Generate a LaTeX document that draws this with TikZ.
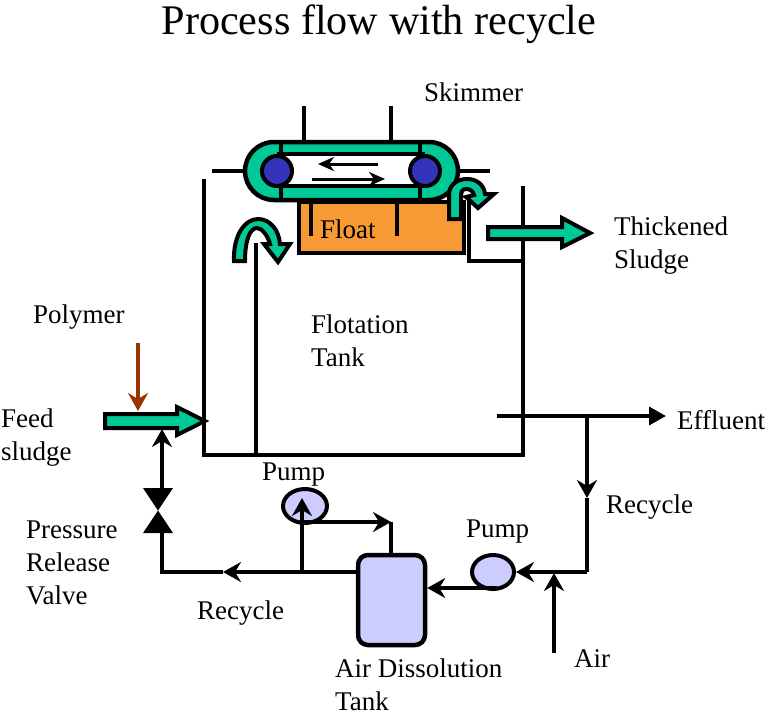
\documentclass[tikz,border=0pt]{standalone}
\usepackage{fontspec}
\setmainfont{Liberation Serif}
\usetikzlibrary{arrows.meta,shapes.geometric}
\definecolor{beltgreen}{HTML}{00C896}
\definecolor{floatorange}{HTML}{F79A33}
\definecolor{pumpblue}{HTML}{CCCCFF}
\definecolor{rollerblue}{HTML}{3333BB}
\definecolor{polybrown}{HTML}{993300}
\tikzset{
  wall/.style={line width=3.5pt},
  pipe/.style={line width=3.5pt,-{Stealth[length=18pt,width=20pt,inset=6pt]}},
  line/.style={line width=3.5pt},
  blockarrow/.style={draw,line width=4pt,fill=beltgreen,miter limit=3},
  label/.style={anchor=west,align=left,inner sep=0pt},
  pump/.style={draw,ellipse,line width=4pt,fill=pumpblue,inner sep=0pt},
}
\begin{document}
\begin{tikzpicture}[x=1pt,y=-1pt,font=\fontsize{27}{33}\selectfont]
\useasboundingbox (0,0) rectangle (767,713);
% texts
\node (title) at (379,24) {\fontsize{42.2}{44}\selectfont Process flow with recycle};
\node (skimmer) [label] at (424,92) {Skimmer};
\node (thick) [label] at (614,246) {Thickened\\Sludge};
\node (polymer) [label] at (33,317) {Polymer};
\node (tanktext) [label] at (311,341) {Flotation\\Tank};
\node (feed) [label] at (1,438) {Feed\\sludge};
\node (effluent) [label] at (677,420) {Effluent};
\node (pumpa) [label] at (262,475) {Pump};
\node (pumpb) [label] at (466,532) {Pump};
\node (recyclea) [label] at (606,507) {Recycle};
\node (valve) [label] at (26,563) {Pressure\\Release\\Valve};
\node (recycleb) [label] at (197,613) {Recycle};
\node (dissolve) [label] at (335,685) {Air Dissolution\\Tank};
\node (air) [label] at (574,659) {Air};
% flotation tank
\draw [wall] (204,179) -- (204,455) -- (523,455) -- (523,186);
\draw [wall] (256,243) -- (256,455);
\draw [wall] (469,197) -- (469,261) -- (523,261);
% float
\node (float) [draw,line width=4pt,fill=floatorange,minimum width=165pt,minimum height=51pt,
  inner sep=0pt] at (381.5,227.5) {};
\node (floattext) [label] at (320,229) {Float};
\draw [wall] (311,202) -- (311,236);
\draw [wall] (397,202) -- (397,236);
% skimmer belt
\draw [wall] (304,106) -- (304,142);
\draw [wall] (391,106) -- (391,142);
\draw [wall] (212,171) -- (245,171);
\draw [wall] (458,171) -- (490,171);
\draw [line width=4.5pt,fill=beltgreen,rounded corners=29pt] (245,142) rectangle (458,200);
\fill [white] (277,154) rectangle (425,186);
\draw [line width=4pt] (277,154) -- (425,154);
\draw [line width=4pt] (277,186) -- (425,186);
\draw [wall] (281,142) -- (281,154);
\draw [wall] (281,186) -- (281,202);
\draw [wall] (420,142) -- (420,154);
\draw [wall] (420,186) -- (420,202);
\node (rollera) [draw,circle,line width=4pt,fill=rollerblue,minimum size=30pt,inner sep=0pt] at (277,171) {};
\node (rollerb) [draw,circle,line width=4pt,fill=rollerblue,minimum size=30pt,inner sep=0pt] at (425,171) {};
\coordinate (belta) at (378,164);
\coordinate (beltb) at (318,164);
\coordinate (beltc) at (312,179);
\coordinate (beltd) at (385,179);
\draw [line width=3pt,-{Stealth[length=16pt,width=14pt,inset=5pt]}] (belta) -- (beltb);
\draw [line width=3pt,-{Stealth[length=16pt,width=14pt,inset=5pt]}] (beltc) -- (beltd);
% curved block arrows
\draw [blockarrow] (234,261) .. controls (233,235) and (245,219) .. (258,219)
  .. controls (270,219) and (279,230) .. (280,244) -- (290,244) -- (278,262) -- (264,244) -- (270,244)
  .. controls (268,236) and (262,228) .. (257,228) .. controls (250,228) and (245,240) .. (245,261) -- cycle;
\draw [blockarrow] (449,219) -- (449,195) .. controls (449,184) and (458,179) .. (467,179)
  .. controls (477,179) and (484,185) .. (485,194) -- (494,194) -- (478,208) -- (466,197) -- (474,195)
  .. controls (473,191) and (470,189) .. (466,189) .. controls (462,189) and (461,192) .. (461,197)
  -- (461,219) -- cycle;
% straight block arrows
\draw [blockarrow] (488,227) -- (562,227) -- (562,218) -- (590,233) -- (562,247) -- (562,239) -- (488,239) -- cycle;
\draw [blockarrow] (105,414) -- (177,414) -- (177,407) -- (205,421) -- (177,435) -- (177,428) -- (105,428) -- cycle;
% polymer
\coordinate (polya) at (138,343);
\coordinate (polyb) at (138,411);
\draw [line width=3.5pt,polybrown,-{Stealth[length=18pt,width=20pt,inset=6pt]}] (polya) -- (polyb);
% effluent and recycle
\coordinate (effa) at (497,416);
\coordinate (effb) at (666,416);
\coordinate (tee) at (587,416);
\coordinate (recmid) at (587,498);
\coordinate (corner) at (587,572);
\coordinate (airin) at (554,573);
\coordinate (airend) at (554,653);
\draw [line width=3.5pt,-{Triangle[length=17pt,width=18pt]}] (effa) -- (effb);
\draw [pipe] (tee) -- (recmid);
\draw [line] (recmid) -- (corner);
\draw [pipe] (airend) -- (airin);
% air dissolution tank and pumps
\node (airtank) [draw,line width=4.5pt,fill=pumpblue,rounded corners=10pt,minimum width=67pt,
  minimum height=90pt,inner sep=0pt] at (391.5,600) {};
\node (pumpr) [pump,minimum width=42pt,minimum height=34pt] at (493,572) {};
\node (pumpl) [pump,minimum width=44pt,minimum height=34pt] at (305,506) {};
\draw [pipe] (corner) -- (pumpr.east);
\coordinate (pumprout) at (497,588);
\draw [pipe] (pumprout) -- (airtank.east |- pumprout);
% recycle line to feed
\coordinate (branch) at (302,572);
\coordinate (arrowat) at (223,572);
\coordinate (bend) at (162,572);
\coordinate (valvebot) at (162,533);
\coordinate (valvetop) at (162,488);
\coordinate (feedin) at (162,429);
\draw [pipe] (airtank.west |- branch) -- (arrowat);
\draw [line] (arrowat) -- (bend) -- (valvebot);
\draw [pipe] (valvetop) -- (feedin);
\fill (143,488) -- (173,488) -- (143,533) -- (173,533) -- cycle;
\coordinate (pumplin) at (302,498);
\coordinate (pumplout) at (302,522);
\coordinate (discharge) at (391,522);
\draw [pipe] (branch) -- (pumplin);
\draw [pipe] (pumplout) -- (discharge);
\draw [line] (discharge) -- (airtank.north -| discharge);
\end{tikzpicture}
\end{document}
